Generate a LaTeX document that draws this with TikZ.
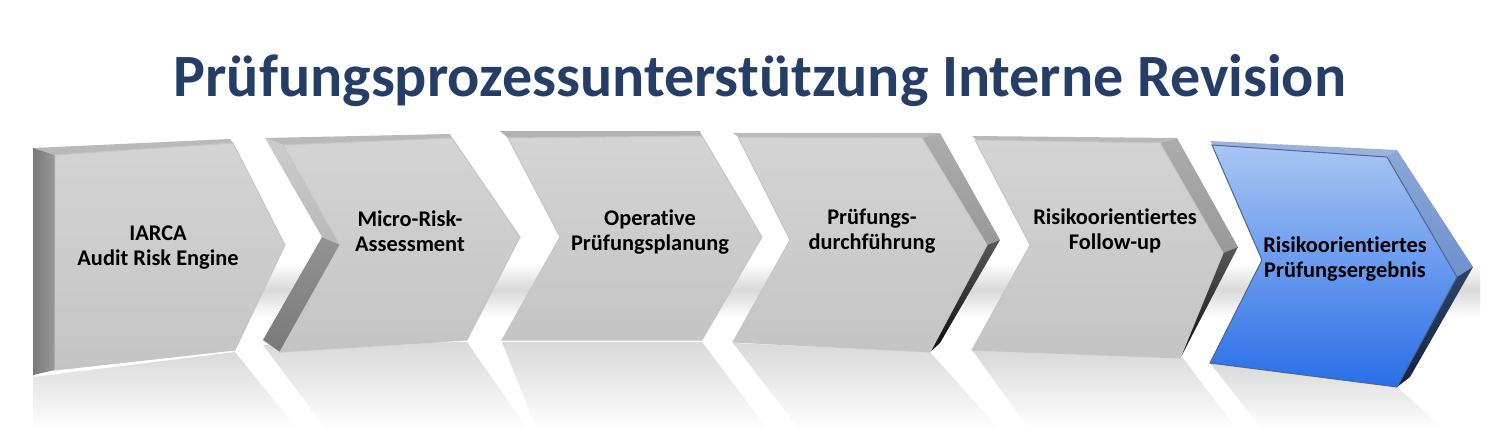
\documentclass[tikz,border=0pt]{standalone}
\usepackage{fontspec}
\setmainfont{Carlito}[Ligatures=NoCommon]
\usetikzlibrary{calc}
\definecolor{titleblue}{RGB}{36,62,104}
\definecolor{facetop}{RGB}{212,212,212}
\definecolor{facebot}{RGB}{196,196,196}
\definecolor{bluetop}{RGB}{168,198,244}
\definecolor{bluebot}{RGB}{40,110,232}
\definecolor{bluemid}{RGB}{110,145,205}
\definecolor{bluedark}{RGB}{20,35,64}
\tikzset{
  grayface/.style={top color=facetop, bottom color=facebot, draw=gray!45, line width=0.5pt},
  blueface/.style={top color=bluetop, bottom color=bluebot, draw=bluemid!70!black, line width=0.5pt},
  sidelight/.style={top color=gray!65, bottom color=gray!80, draw=none},
  sidedark/.style={top color=gray!70!black, bottom color=black!95, draw=none},
  sideleft/.style={left color=gray!95!black, right color=gray!80, draw=none},
  sideleftdark/.style={top color=gray!85, bottom color=gray!95!black, draw=none},
  bevel/.style={fill=gray!55, draw=none},
  reflect/.style={top color=gray!30, bottom color=white, draw=none},
  lbl/.style={font=\bfseries\fontsize{11.2}{12.5}\selectfont, align=center, text=black},
}
\begin{document}
\begin{tikzpicture}[x=0.5pt,y=-0.5pt]
\useasboundingbox (0,0) rectangle (1500,430);
\fill[white] (0,0) rectangle (1500,430);

% soft shadow band behind the chevrons
\shade[top color=white, bottom color=white, middle color=gray!30] (40,262) rectangle (1480,318);

% reflections
\shade[reflect] (33,377) -- (235,352) -- (298,430) -- (33,430) -- cycle;
\shade[reflect] (263,345) -- (467,342) -- (528,430) -- (327,430) -- cycle;
\shade[reflect] (502,342) -- (702,342) -- (768,430) -- (537,430) -- cycle;
\shade[reflect] (733,343) -- (930,352) -- (1000,430) -- (800,430) -- cycle;
\shade[reflect] (972,350) -- (1183,358) -- (1237,430) -- (1030,430) -- cycle;
\shade[reflect] (1210,363) -- (1397,387) -- (1445,430) -- (1263,430) -- cycle;

% chevron 1
\fill[bevel] (33,148) -- (230,139) -- (233,143) -- (55,155) -- cycle;
\shade[sideleft] (33,148) -- (55,155) -- (55,370) -- (33,375) -- cycle;
\shade[grayface] (55,155) -- (233,143) -- (285,245) -- (235,350) -- (55,370) -- cycle;

% chevron 2
\fill[bevel] (265,138) -- (450,134) -- (452,138) -- (283,145) -- cycle;
\shade[top color=gray!40, bottom color=gray!55] (265,138) -- (283,145) -- (340,245) -- (322,237) -- cycle;
\shade[sideleftdark] (322,237) -- (340,245) -- (280,352) -- (263,340) -- cycle;
\shade[grayface] (283,145) -- (452,138) -- (520,237) -- (467,340) -- (280,352) -- (340,245) -- cycle;

% chevron 3
\fill[gray!60] (500,131) -- (700,131) -- (702,136) -- (508,138) -- cycle;
\shade[grayface] (508,138) -- (702,136) -- (762,237) -- (702,340) -- (502,340) -- (560,237) -- cycle;

% chevron 4
\fill[bevel] (733,133) -- (940,133) -- (922,138) -- (740,138) -- cycle;
\shade[sidelight] (922,138) -- (940,133) -- (1000,240) -- (987,245) -- cycle;
\shade[sidedark] (987,245) -- (1000,240) -- (940,343) -- (930,352) -- cycle;
\shade[grayface] (738,137) -- (922,138) -- (987,245) -- (930,352) -- (733,342) -- (790,240) -- cycle;

% chevron 5
\fill[bevel] (972,136) -- (1177,138) -- (1160,143) -- (978,141) -- cycle;
\shade[sidelight] (1160,143) -- (1177,138) -- (1238,247) -- (1223,253) -- cycle;
\shade[sidedark] (1223,253) -- (1238,247) -- (1183,353) -- (1180,358) -- cycle;
\shade[grayface] (975,140) -- (1160,143) -- (1223,253) -- (1180,358) -- (972,350) -- (1030,245) -- cycle;

% chevron 6 (blue)
\fill[bluemid!70!white] (1210,141) -- (1397,150) -- (1387,157) -- (1214,146) -- cycle;
\shade[top color=bluemid!80!white, bottom color=bluemid] (1387,157) -- (1397,150) -- (1473,267) -- (1457,277) -- cycle;
\shade[top color=bluedark!70!bluemid, bottom color=bluedark] (1457,277) -- (1473,267) -- (1410,377) -- (1397,387) -- cycle;
\shade[blueface] (1212,145) -- (1387,157) -- (1457,277) -- (1397,387) -- (1210,363) -- (1262,260) -- cycle;

% title
\node[font=\bfseries\fontsize{30}{36}\selectfont, text=titleblue, anchor=base] (title) at (760,96) {Prüfungsprozessunterstützung Interne Revision};

% labels
\node[lbl] (t1) at (158,248) {IARCA\\Audit Risk Engine};
\node[lbl] (t2) at (410,231) {Micro-Risk-\\Assessment};
\node[lbl] (t3) at (650,232) {Operative\\Prüfungsplanung};
\node[lbl] (t4) at (872,231) {Prüfungs-\\durchführung};
\node[lbl] (t5) at (1115,231) {Risikoorientiertes\\Follow-up};
\node[lbl] (t6) at (1345,259) {Risikoorientiertes\\Prüfungsergebnis};
\end{tikzpicture}
\end{document}
